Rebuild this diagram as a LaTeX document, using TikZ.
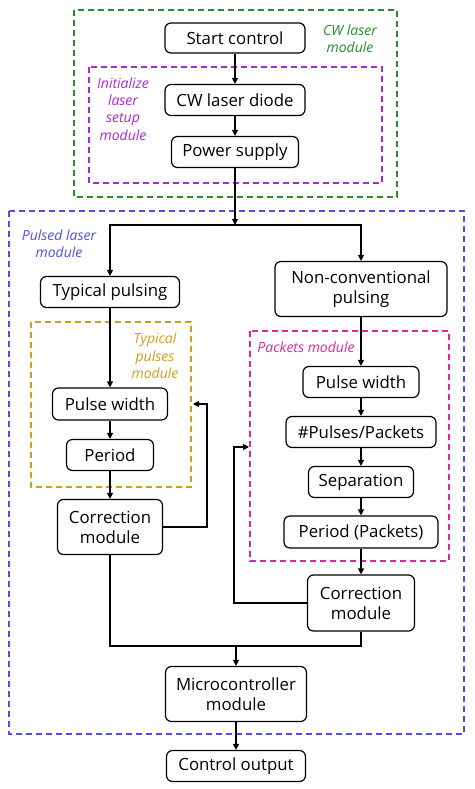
\documentclass[tikz,border=0pt]{standalone}
\usepackage{fontspec}
\setmainfont{Open Sans}
\usetikzlibrary{arrows.meta}
\definecolor{cwgreen}{RGB}{40,140,40}
\definecolor{initpurple}{RGB}{170,40,210}
\definecolor{pulsblue}{RGB}{80,80,230}
\definecolor{typgold}{RGB}{200,160,30}
\definecolor{packpink}{RGB}{220,40,160}
\tikzset{
  blk/.style={draw, line width=1.2pt, rounded corners=6pt, align=center, inner sep=0pt,
    font=\fontsize{16.8}{20}\selectfont},
  modbox/.style={dashed, line width=1.3pt, dash pattern=on 6pt off 4pt},
  modlabel/.style={align=center, inner sep=0pt, font=\fontsize{14}{17.3}\selectfont\itshape},
  arr/.style={line width=1.1pt, -{Triangle[length=6pt,width=6pt]}},
  ln/.style={line width=1.1pt}
}
\begin{document}
\begin{tikzpicture}[x=1pt,y=-1pt]
\useasboundingbox (0,0) rectangle (474,789);
% module boxes
\draw[modbox, cwgreen] (74,10) rectangle (397,197);
\draw[modbox, initpurple] (89,67) rectangle (382,183);
\draw[modbox, pulsblue] (9,211) rectangle (464,734);
\draw[modbox, typgold] (31,322) rectangle (191,487);
\draw[modbox, packpink] (250,331) rectangle (449,561);
% module labels
\node[modlabel, text=cwgreen] (lcw) at (350,38.5) {CW laser\\module};
\node[modlabel, text=initpurple] (linit) at (123,109) {Initialize\\laser\\setup\\module};
\node[modlabel, text=pulsblue] (lpuls) at (59,244) {Pulsed laser\\module};
\node[modlabel, text=typgold] (ltyp) at (155,356) {Typical\\pulses\\module};
\node[modlabel, text=packpink] (lpack) at (306,347) {Packets module};
% blocks
\node[blk, minimum width=140pt, minimum height=30pt] (sc) at (235,38) {Start control};
\node[blk, minimum width=140pt, minimum height=31pt] (cw) at (235,100) {CW laser diode};
\node[blk, minimum width=127pt, minimum height=31pt] (ps) at (235,152) {Power supply};
\node[blk, minimum width=139pt, minimum height=31pt] (tp) at (110,292) {Typical pulsing};
\node[blk, minimum width=172pt, minimum height=55pt] (nc) at (361,289) {Non-conventional\\pulsing};
\node[blk, minimum width=115pt, minimum height=32pt] (pwl) at (110,404) {Pulse width};
\node[blk, minimum width=87pt, minimum height=31pt] (per) at (110,455) {Period};
\node[blk, minimum width=105pt, minimum height=55pt] (corl) at (110,527) {Correction\\module};
\node[blk, minimum width=116pt, minimum height=31pt] (pwr) at (361,382) {Pulse width};
\node[blk, minimum width=150pt, minimum height=31pt] (npk) at (361,432) {\#Pulses/Packets};
\node[blk, minimum width=105pt, minimum height=31pt] (sep) at (361,482) {Separation};
\node[blk, minimum width=154pt, minimum height=32pt] (ppk) at (361,532) {Period (Packets)};
\node[blk, minimum width=107pt, minimum height=56pt] (corr) at (361,603) {Correction\\module};
\node[blk, minimum width=141pt, minimum height=55pt] (mc) at (236,694) {Microcontroller\\module};
\node[blk, minimum width=139pt, minimum height=31pt] (co) at (236,766) {Control output};
% helper coordinates
\coordinate (split) at (235,225);
\coordinate (fbla) at (207,527);
\coordinate (fblb) at (193,404);
\coordinate (fbra) at (234,603);
\coordinate (fbrb) at (249,447);
\coordinate (mrg) at (236,646);
% connectors
\draw[arr] (sc) -- (cw);
\draw[arr] (cw) -- (ps);
\draw[arr] (ps) -- (split);
\draw[arr] (split) -| (tp);
\draw[arr] (split) -| (nc);
\draw[arr] (tp) -- (pwl);
\draw[arr] (pwl) -- (per);
\draw[arr] (per) -- (corl);
\draw[arr] (corl.east) -- (fbla) |- (fblb);
\draw[arr] (nc) -- (pwr);
\draw[arr] (pwr) -- (npk);
\draw[arr] (npk) -- (sep);
\draw[arr] (sep) -- (ppk);
\draw[arr] (ppk) -- (corr);
\draw[arr] (corr.west) -- (fbra) |- (fbrb);
\draw[ln] (corl.south) |- (mrg) -| (corr.south);
\draw[arr] (mrg) -- (mc);
\draw[arr] (mc) -- (co);
\end{tikzpicture}
\end{document}
